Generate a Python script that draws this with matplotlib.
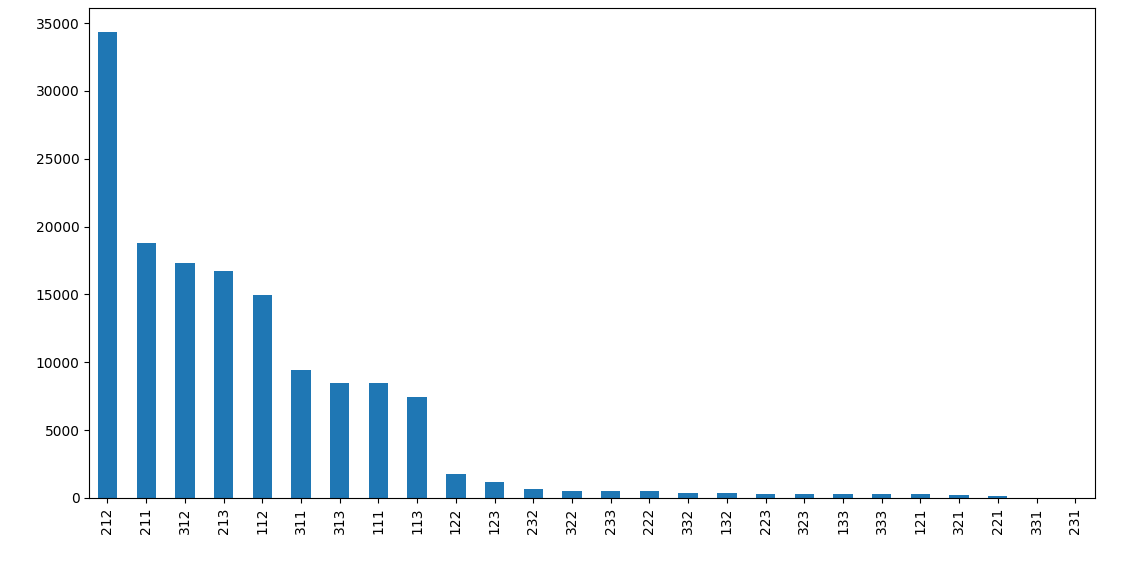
import numpy as np
import matplotlib
matplotlib.use("Agg")
import matplotlib.pyplot as plt

# value counts per code
codes = ['212', '211', '312', '213', '112', '311', '313', '111', '113', '122',
         '123', '232', '322', '233', '222', '332', '132', '223', '323', '133',
         '333', '121', '321', '221', '331', '231']
counts = [34350, 18800, 17350, 16700, 14950, 9430, 8500, 8480, 7440, 1750,
          1210, 660, 545, 545, 540, 400, 400, 300, 300, 300,
          295, 290, 180, 175, 15, 10]

fig = plt.figure(figsize=(11.23, 5.62), dpi=100)
ax = fig.add_axes([0.0795, 0.114, 0.8952, 0.8714])

pos = np.arange(len(codes))
ax.bar(pos, counts, width=0.5, color='#1f77b4')
ax.set_xticks(pos)
ax.set_xticklabels(codes, rotation=90)
ax.set_xlim(-0.47, len(codes) - 0.5)
ax.set_ylim(0, 36100)
ax.set_yticks(np.arange(0, 35001, 5000))

fig.savefig("out.png", dpi=100)
